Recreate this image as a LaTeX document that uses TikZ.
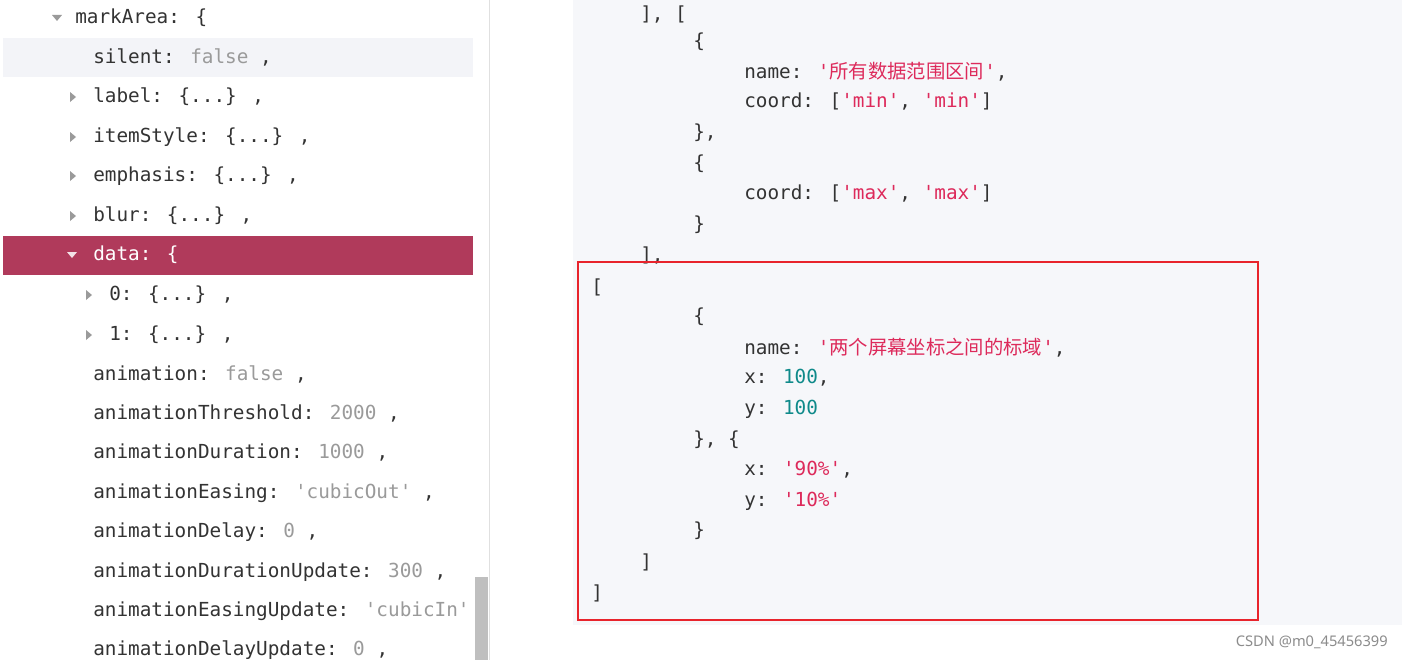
\documentclass[tikz,border=0pt]{standalone}
\usepackage{fontspec}
\newfontfamily\codefont[Scale=1.0]{DejaVu Sans Mono}
\newfontfamily\cjk{Noto Sans CJK SC}
\definecolor{keyc}{HTML}{333333}
\definecolor{grayv}{HTML}{9A9A9A}
\definecolor{strc}{HTML}{DD2A5B}
\definecolor{numc}{HTML}{0F8A8A}
\definecolor{selbg}{HTML}{B03A5B}
\definecolor{rowbg}{HTML}{F3F4F8}
\definecolor{codebg}{HTML}{F6F7FA}
\definecolor{boxred}{HTML}{E8242C}
\newcommand\G[1]{\textcolor{grayv}{#1}}
\newcommand\Sx[1]{\textcolor{strc}{#1}}
\newcommand\N[1]{\textcolor{numc}{#1}}
\begin{document}
\begin{tikzpicture}[x=0.75pt,y=-0.75pt,
  t/.style={anchor=west,inner sep=0,text=keyc,font=\codefont\fontsize{14.5pt}{16pt}\selectfont},
  tri/.style={fill=grayv,draw=none}]
\useasboundingbox (0,0) rectangle (1402,660);
\fill[white] (0,0) rectangle (1402,660);
% left panel
\fill[rowbg] (3,38) rectangle (473,77);
\fill[selbg] (3,236) rectangle (473,275);
\draw[color=black!12] (489,0) -- (489,660);
\fill[black!25] (475,577) rectangle (488,660);
% triangles
\fill[tri] (52,15) -- (62,15) -- (57,21) -- cycle;
\foreach \y in {97,137,176,216}{\fill[tri] (70,\y-5) -- (70,\y+5) -- (76,\y) -- cycle;}
\fill[white!85!selbg] (67,252) -- (77,252) -- (72,258) -- cycle;
\foreach \y in {295,335}{\fill[tri] (86,\y-5) -- (86,\y+5) -- (92,\y) -- cycle;}
\node[t] (l0) at (75,18) {markArea: \{};
\node[t] (l1) at (93,57) {silent: \G{false} ,};
\node[t] (l2) at (93,97) {label: \{...\} ,};
\node[t] (l3) at (93,137) {itemStyle: \{...\} ,};
\node[t] (l4) at (93,176) {emphasis: \{...\} ,};
\node[t] (l5) at (93,216) {blur: \{...\} ,};
\node[t,text=white] (l6) at (93,255) {data: \{};
\node[t] (l7) at (109,295) {0: \{...\} ,};
\node[t] (l8) at (109,335) {1: \{...\} ,};
\node[t] (l9) at (93,374) {animation: \G{false} ,};
\node[t] (l10) at (93,413) {animationThreshold: \G{2000} ,};
\node[t] (l11) at (93,453) {animationDuration: \G{1000} ,};
\node[t] (l12) at (93,493) {animationEasing: \G{'cubicOut'} ,};
\node[t] (l13) at (93,532) {animationDelay: \G{0} ,};
\node[t] (l14) at (93,572) {animationDurationUpdate: \G{300} ,};
\begin{scope}
\clip (0,0) rectangle (473,660);
\node[t] (l15) at (93,611) {animationEasingUpdate: \G{'cubicIn'}};
\end{scope}
\node[t] (l16) at (93,650) {animationDelayUpdate: \G{0} ,};
% right panel
\fill[codebg] (573,0) rectangle (1402,625);
\node[t] (r0) at (640,15) {], [};
\node[t] (r1) at (693,42) {\{};
\node[t] (r2) at (744,72) {name: \Sx{'{\cjk 所有数据范围区间}'},};
\node[t] (r3) at (744,102) {coord: [\Sx{'min'}, \Sx{'min'}]};
\node[t] (r4) at (693,133) {\},};
\node[t] (r5) at (693,164) {\{};
\node[t] (r6) at (744,194) {coord: [\Sx{'max'}, \Sx{'max'}]};
\node[t] (r7) at (693,225) {\}};
\node[t] (r8) at (640,256) {],};
\node[t] (r9) at (591,287) {[};
\node[t] (r10) at (693,317) {\{};
\node[t] (r11) at (744,348) {name: \Sx{'{\cjk 两个屏幕坐标之间的标域}'},};
\node[t] (r12) at (744,378) {x: \N{100},};
\node[t] (r13) at (744,409) {y: \N{100}};
\node[t] (r14) at (693,440) {\}, \{};
\node[t] (r15) at (744,470) {x: \Sx{'90\%'},};
\node[t] (r16) at (744,501) {y: \Sx{'10\%'}};
\node[t] (r17) at (693,531) {\}};
\node[t] (r18) at (640,562) {]};
\node[t] (r19) at (591,593) {]};
\draw[boxred,line width=1.5pt] (578,262) rectangle (1258,620);
\node[anchor=east,inner sep=0,text=black!45,font=\fontspec{Noto Sans}\fontsize{11pt}{12pt}\selectfont] (wm) at (1388,642) {CSDN @m0\_45456399};
\end{tikzpicture}
\end{document}
